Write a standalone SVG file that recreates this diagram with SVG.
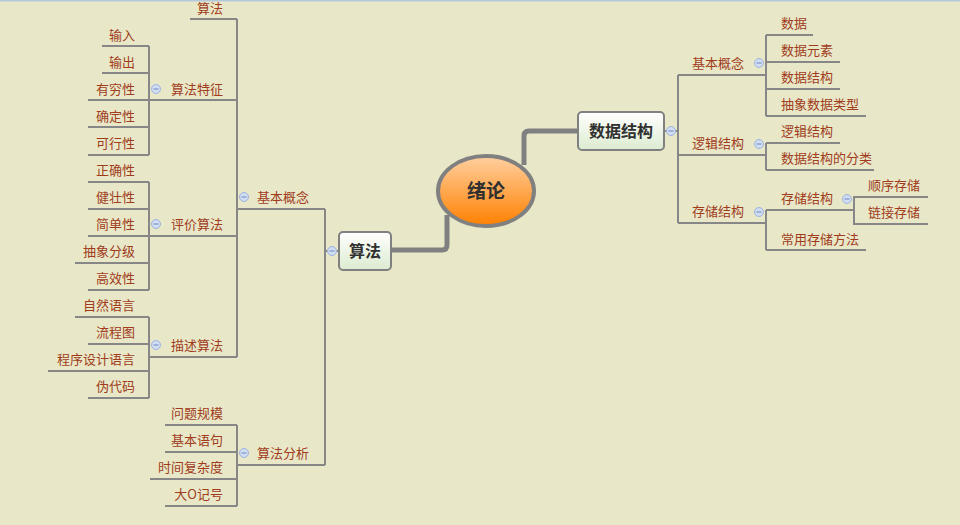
<svg xmlns="http://www.w3.org/2000/svg" width="960" height="525" viewBox="0 0 960 525">
<defs>
<linearGradient id="og" x1="0" y1="0" x2="0" y2="1"><stop offset="0" stop-color="#ffd0a0"/><stop offset="1" stop-color="#ff8000"/></linearGradient>
<linearGradient id="bg" x1="0" y1="0" x2="0" y2="1"><stop offset="0" stop-color="#ffffff"/><stop offset="1" stop-color="#dcecd0"/></linearGradient>
<style>
.t{font-family:"Noto Sans CJK SC","Liberation Sans",sans-serif;font-size:13px;fill:#a03c1c}
.e{text-anchor:end}
.c{fill:none;stroke:#878787;stroke-width:2;stroke-linejoin:round}
.m{fill:#cfdcf2;stroke:#9fb3dc;stroke-width:1}
.b{font-family:"Noto Sans CJK SC","Liberation Sans",sans-serif;font-weight:bold;fill:#303030;text-anchor:middle}
</style>
<g id="mi"><circle r="4.5" class="m"/><line x1="-2.5" x2="2.5" stroke="#6f86c0" stroke-width="1"/></g>
</defs>
<rect width="960" height="525" fill="#e8e8c8"/>
<rect width="960" height="1.5" fill="#b8c8dc"/>
<g id="connectors">
<path d="M524,165 V136 Q524,131 529,131 H578 M447,215 V245 Q447,250 442,250 H392" fill="none" stroke="#808080" stroke-width="5"/>
<path class="c" d="M664,131 H678 M678,75 V223 M678,75 H765 M678,155 H765 M678,223 H765"/>
<path class="c" d="M765,75 H766 M766,35 V116 M766,35 H813 M766,62 H840 M766,89 H840 M766,116 H866"/>
<path class="c" d="M766,143 V170 M766,143 H840 M766,170 H874"/>
<path class="c" d="M766,210 V250 M766,210 H853 M766,250 H866 M854,197 V224 M853,197 H928 M853,224 H928"/>
<path class="c" d="M338,251 H325 M325,209 V465 M237,209 H325 M237,465 H325"/>
<path class="c" d="M237,19 V357 M190,19 H237 M148,100 H237 M148,236 H237 M148,357 H237"/>
<path class="c" d="M149,46 V155 M102,46 H149 M102,73 H149 M88,100 H149 M88,127 H149 M88,155 H149"/>
<path class="c" d="M149,182 V290 M88,182 H149 M88,209 H149 M88,236 H149 M75,263 H149 M88,290 H149"/>
<path class="c" d="M149,317 V398 M75,317 H149 M88,344 H149 M48,371 H149 M88,398 H149"/>
<path class="c" d="M237,425 V506 M165,425 H237 M165,452 H237 M150,479 H237 M165,506 H237"/>
</g>
<g id="root"><ellipse cx="486" cy="191" rx="48" ry="35" fill="url(#og)" stroke="#808080" stroke-width="4"/><text x="486" y="198" class="b" font-size="19">绪论</text></g>
<g id="n-ds"><rect x="578" y="112" width="86" height="38" rx="4" fill="url(#bg)" stroke="#808080" stroke-width="2"/><text x="621" y="137" class="b" font-size="16">数据结构</text><use href="#mi" x="671" y="131"/></g>
<g id="n-alg"><rect x="339" y="232" width="52" height="38" rx="4" fill="url(#bg)" stroke="#808080" stroke-width="2"/><text x="365" y="257" class="b" font-size="16">算法</text><use href="#mi" x="332" y="251"/></g>
<g id="right">
<text class="t" x="692" y="68">基本概念</text><use href="#mi" x="759" y="63"/>
<text class="t" x="692" y="148">逻辑结构</text><use href="#mi" x="759" y="144"/>
<text class="t" x="692" y="216">存储结构</text><use href="#mi" x="759" y="212"/>
<text class="t" x="781" y="28">数据</text>
<text class="t" x="781" y="55">数据元素</text>
<text class="t" x="781" y="82">数据结构</text>
<text class="t" x="781" y="109">抽象数据类型</text>
<text class="t" x="781" y="136">逻辑结构</text>
<text class="t" x="781" y="163">数据结构的分类</text>
<text class="t" x="781" y="203">存储结构</text><use href="#mi" x="847" y="199"/>
<text class="t" x="781" y="244">常用存储方法</text>
<text class="t" x="868" y="190">顺序存储</text>
<text class="t" x="868" y="217">链接存储</text>
</g>
<g id="left">
<text class="t" x="257" y="202">基本概念</text><use href="#mi" x="244" y="197"/>
<text class="t" x="257" y="458">算法分析</text><use href="#mi" x="244" y="453"/>
<text class="t e" x="223" y="13">算法</text>
<text class="t e" x="223" y="94">算法特征</text><use href="#mi" x="156" y="89"/>
<text class="t e" x="223" y="229">评价算法</text><use href="#mi" x="156" y="224"/>
<text class="t e" x="223" y="350">描述算法</text><use href="#mi" x="156" y="345"/>
<text class="t e" x="135" y="40">输入</text>
<text class="t e" x="135" y="67">输出</text>
<text class="t e" x="135" y="94">有穷性</text>
<text class="t e" x="135" y="121">确定性</text>
<text class="t e" x="135" y="148">可行性</text>
<text class="t e" x="135" y="175">正确性</text>
<text class="t e" x="135" y="202">健壮性</text>
<text class="t e" x="135" y="229">简单性</text>
<text class="t e" x="135" y="256">抽象分级</text>
<text class="t e" x="135" y="283">高效性</text>
<text class="t e" x="135" y="310">自然语言</text>
<text class="t e" x="135" y="337">流程图</text>
<text class="t e" x="135" y="364">程序设计语言</text>
<text class="t e" x="135" y="391">伪代码</text>
<text class="t e" x="223" y="418">问题规模</text>
<text class="t e" x="223" y="445">基本语句</text>
<text class="t e" x="223" y="472">时间复杂度</text>
<text class="t e" x="223" y="499">大O记号</text>
</g>
</svg>
